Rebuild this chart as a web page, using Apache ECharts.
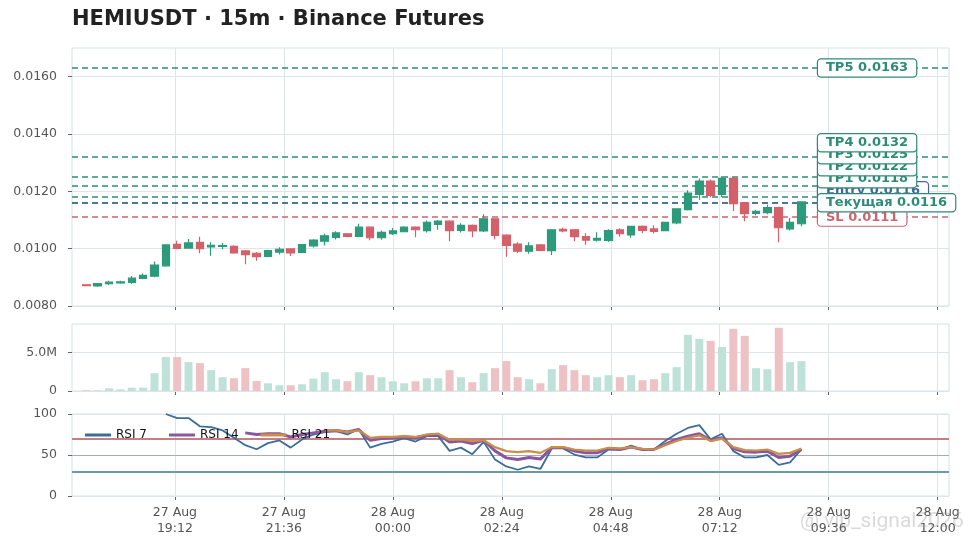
<!DOCTYPE html>
<html>
<head>
<meta charset="utf-8">
<title>HEMIUSDT 15m</title>
<script src="https://cdn.jsdelivr.net/npm/echarts@6/dist/echarts.min.js"></script>
<style>
html, body { margin: 0; padding: 0; background: #fff; }
#chart { width: 973px; height: 548px; }
</style>
</head>
<body>
<div id="chart"></div>
<script>
// 15m candles, "day HH:MM" (27 / 28 Aug)
var times = [
    '27 17:15','27 17:30','27 17:45','27 18:00','27 18:15','27 18:30','27 18:45','27 19:00',
    '27 19:15','27 19:30','27 19:45','27 20:00','27 20:15','27 20:30','27 20:45','27 21:00',
    '27 21:15','27 21:30','27 21:45','27 22:00','27 22:15','27 22:30','27 22:45','27 23:00',
    '27 23:15','27 23:30','27 23:45','28 00:00','28 00:15','28 00:30','28 00:45','28 01:00',
    '28 01:15','28 01:30','28 01:45','28 02:00','28 02:15','28 02:30','28 02:45','28 03:00',
    '28 03:15','28 03:30','28 03:45','28 04:00','28 04:15','28 04:30','28 04:45','28 05:00',
    '28 05:15','28 05:30','28 05:45','28 06:00','28 06:15','28 06:30','28 06:45','28 07:00',
    '28 07:15','28 07:30','28 07:45','28 08:00','28 08:15','28 08:30','28 08:45','28 09:00'
];
var opens = [
    0.00874,0.00870,0.00878,0.00881,0.00882,0.00896,0.00904,0.00940,
    0.01015,0.01002,0.01022,0.01006,0.01008,0.01008,0.00992,0.00984,
    0.00973,0.00988,0.00999,0.00987,0.01010,0.01026,0.01039,0.01052,
    0.01043,0.01075,0.01038,0.01052,0.01059,0.01075,0.01063,0.01085,
    0.01096,0.01064,0.01081,0.01062,0.01104,0.01047,0.01016,0.00991,
    0.01013,0.00993,0.01067,0.01066,0.01042,0.01030,0.01029,0.01066,
    0.01048,0.01078,0.01069,0.01063,0.01090,0.01136,0.01189,0.01236,
    0.01189,0.01245,0.01160,0.01123,0.01126,0.01143,0.01069,0.01087
];
var closes = [
    0.00871,0.00878,0.00883,0.00884,0.00897,0.00907,0.00943,0.01013,
    0.01001,0.01020,0.01000,0.01012,0.01011,0.00985,0.00979,0.00972,
    0.00993,0.00998,0.00985,0.01014,0.01030,0.01045,0.01055,0.01043,
    0.01075,0.01038,0.01057,0.01062,0.01075,0.01066,0.01092,0.01096,
    0.01063,0.01081,0.01062,0.01104,0.01046,0.01011,0.00991,0.01010,
    0.00994,0.01066,0.01062,0.01042,0.01030,0.01036,0.01063,0.01052,
    0.01078,0.01064,0.01060,0.01092,0.01139,0.01194,0.01236,0.01186,
    0.01245,0.01157,0.01122,0.01130,0.01143,0.01073,0.01092,0.01163
];
var lows = [
    0.00869,0.00866,0.00873,0.00878,0.00878,0.00893,0.00900,0.00937,
    0.00998,0.01000,0.00984,0.00975,0.00998,0.00982,0.00946,0.00958,
    0.00970,0.00980,0.00974,0.00985,0.01004,0.01011,0.01032,0.01040,
    0.01040,0.01029,0.01031,0.01048,0.01057,0.01040,0.01056,0.01066,
    0.01026,0.01056,0.01040,0.01058,0.01033,0.00972,0.00985,0.00982,
    0.00991,0.00978,0.01057,0.01026,0.01014,0.01025,0.01023,0.01042,
    0.01038,0.01054,0.01053,0.01061,0.01085,0.01133,0.01171,0.01179,
    0.01180,0.01131,0.01096,0.01117,0.01120,0.01022,0.01063,0.01078
];
var highs = [
    0.00876,0.00880,0.00888,0.00888,0.00905,0.00913,0.00955,0.01015,
    0.01028,0.01034,0.01042,0.01022,0.01020,0.01012,0.00995,0.00988,
    0.00996,0.01005,0.01001,0.01016,0.01033,0.01052,0.01061,0.01054,
    0.01087,0.01078,0.01063,0.01072,0.01078,0.01078,0.01098,0.01100,
    0.01099,0.01089,0.01084,0.01120,0.01106,0.01050,0.01022,0.01022,
    0.01016,0.01068,0.01073,0.01068,0.01054,0.01057,0.01068,0.01071,
    0.01080,0.01081,0.01082,0.01094,0.01141,0.01204,0.01245,0.01241,
    0.01253,0.01250,0.01163,0.01136,0.01153,0.01146,0.01107,0.01165
];
var volumes = [
    0.09,0.09,0.35,0.22,0.43,0.43,2.30,4.38,
    4.38,3.73,3.60,2.69,1.78,1.65,2.95,1.30,
    1.00,0.74,0.74,0.87,1.60,2.43,1.52,1.26,
    2.43,2.04,1.78,1.26,1.00,1.26,1.65,1.65,
    2.69,1.78,1.13,2.30,2.95,3.86,1.78,1.52,
    1.00,2.82,3.34,2.69,2.04,1.78,2.04,1.78,
    2.04,1.39,1.52,2.30,3.08,7.25,6.73,6.47,
    5.69,8.03,7.12,2.95,2.82,8.16,3.73,3.86
]; // millions
var rsi7 = [
    null,null,null,null,null,null,null,100,
    95,95,85,84,80,71,62,57,
    64.5,67.7,59,69,75,78,79,75,
    81.5,59,63.6,66.4,70.5,66.4,73,73,
    55,59,51,66,44.5,36,32,36,
    33,58,58,50.6,47,47,56.7,56.7,
    61.6,56.7,56.7,67,76,83,86.5,69,
    76,54.7,47,47,50,38,41,57
];
var rsi14 = [
    null,null,null,null,null,null,null,null,
    null,null,null,null,null,null,77,75,
    76,76,72,75,77,79,80,78,
    81,68,70,71,72,71,74,75,
    66,67,64,68,55,46.5,44.5,47,
    45,59,59,55,52.6,52.6,58,56.7,
    59.6,56.7,56.7,63,69,73,76,68,
    71,58,54,53.5,54.7,47,48.6,56.7
];
var rsi21 = [
    null,null,null,null,null,null,null,null,
    null,null,null,null,null,null,null,null,
    null,null,null,null,null,80,80,78,
    80,71,72,72,73,72,75,76,
    68.5,69,67,68,59.6,54.7,53.5,54.7,
    52.6,59.6,59.6,56.7,55.5,55.5,58.8,58,
    59.6,57.5,56.7,62,67,71,74,67,
    70,59.6,56,55.5,56.7,51.4,52.6,58
];

var tickTimes = ['27 19:12','27 21:36','28 00:00','28 02:24','28 04:48','28 07:12','28 09:36','28 12:00'];
var priceTicks = [0.008, 0.010, 0.012, 0.014, 0.016];
var volumeTicks = [0, 5]; // millions
var rsiTicks = [0, 50, 100];
var rsiLevels = [70, 50, 30];

// levels listed from the bottom label upward
var levelNames = ['SL', 'Текущая', 'Entry', 'TP1', 'TP2', 'TP3', 'TP4', 'TP5'];
var levelValues = [0.0111, 0.0116, 0.0116, 0.0118, 0.0122, 0.0125, 0.0132, 0.0163];

var UP = '#2b9b7b', DOWN = '#d3606b';
var UP_VOL = '#bfe2d8', DOWN_VOL = '#eec1c5';
var TEAL = '#2d8c75', RED = '#cc6470', BLUE = '#44689c';
var GRID = '#dde5e8';
var FONT = 'DejaVu Sans';

var PRICE_MIN = 0.008, PRICE_MAX = 0.017;
var VOL_MAX = 8.65e6;

function toMin(s) {
    var p = s.split(' ');
    var hm = p[1].split(':');
    return (parseInt(p[0]) - 27) * 1440 + parseInt(hm[0]) * 60 + parseInt(hm[1]);
}
function pad(n) { return (n < 10 ? '0' : '') + n; }
function timeLabel(v) {
    var d = 27 + Math.floor(v / 1440);
    var m = v - (d - 27) * 1440;
    return d + ' Aug\n' + pad(Math.floor(m / 60)) + ':' + pad(Math.round(m % 60));
}
function levelColor(name) {
    if (name == 'SL') return RED;
    if (name == 'Entry') return BLUE;
    return TEAL;
}

var xs = times.map(toMin);
var xTicks = tickTimes.map(toMin);
var xMin = toMin('27 16:56'), xMax = toMin('28 12:15');
var volTickVals = volumeTicks.map(function (v) { return v * 1e6; });

var candleData = xs.map(function (x, i) { return [x, opens[i], closes[i], lows[i], highs[i]]; });
var volData = xs.map(function (x, i) { return [x, volumes[i] * 1e6]; });
function rsiData(arr) {
    var out = [];
    arr.forEach(function (v, i) { if (v != null) out.push([xs[i], v]); });
    return out;
}

// grid lines at the custom tick values (splitLine does not follow customValues)
function gridLines(yVals, yLo, yHi) {
    var out = [];
    xTicks.forEach(function (v) {
        out.push([{ coord: [v, yLo], lineStyle: { color: GRID, type: 'solid', width: 1 } }, { coord: [v, yHi] }]);
    });
    yVals.forEach(function (v) {
        out.push([{ coord: [xMin, v], lineStyle: { color: GRID, type: 'solid', width: 1 } }, { coord: [xMax, v] }]);
    });
    return out;
}
function markLines(data) {
    // markLine rounds its values to 2 decimals unless precision is raised
    return { silent: true, z: 1, precision: 10, symbol: ['none', 'none'], label: { show: false }, data: data };
}

var tick = { show: true, length: 4, lineStyle: { color: '#666', width: 1 } };
var labelStyle = { color: '#555', fontSize: 12.5, fontFamily: FONT };

function makeX(idx, showLabel) {
    return {
        type: 'value', gridIndex: idx, min: xMin, max: xMax,
        axisLine: { show: false },
        axisTick: Object.assign({ customValues: xTicks }, tick),
        splitLine: { show: false },
        axisLabel: Object.assign({
            show: showLabel, customValues: xTicks, formatter: timeLabel,
            lineHeight: 16, margin: 9, align: 'center'
        }, labelStyle)
    };
}

var chart = echarts.init(document.getElementById('chart'));

var option = {
    animation: false,
    backgroundColor: '#fff',
    title: {
        text: 'HEMIUSDT · 15m · Binance Futures',
        left: 72, top: 9, padding: 0,
        textStyle: { fontSize: 21, fontWeight: 'bold', color: '#222', fontFamily: FONT }
    },
    legend: {
        data: [
            { name: 'RSI 7', icon: 'rect' },
            { name: 'RSI 14', icon: 'rect' },
            { name: 'RSI 21', icon: 'rect' }
        ],
        left: 80, top: 424,
        itemWidth: 26, itemHeight: 3, itemGap: 22,
        textStyle: { color: '#111', fontSize: 12, fontFamily: FONT }
    },
    grid: [
        { left: 72, right: 24, top: 48, height: 258, show: true, borderColor: '#d6e0e4', borderWidth: 1 },
        { left: 72, right: 24, top: 324, height: 67, show: true, borderColor: '#d6e0e4', borderWidth: 1 },
        { left: 72, right: 24, top: 414, height: 82, show: true, borderColor: '#d6e0e4', borderWidth: 1 }
    ],
    xAxis: [makeX(0, false), makeX(1, false), makeX(2, true)],
    yAxis: [
        {
            type: 'value', gridIndex: 0, min: PRICE_MIN, max: PRICE_MAX,
            axisLine: { show: false },
            axisTick: Object.assign({ customValues: priceTicks }, tick),
            splitLine: { show: false },
            axisLabel: Object.assign({
                customValues: priceTicks, margin: 15,
                formatter: function (v) { return v.toFixed(4); }
            }, labelStyle)
        },
        {
            type: 'value', gridIndex: 1, min: 0, max: VOL_MAX,
            axisLine: { show: false },
            axisTick: Object.assign({ customValues: volTickVals }, tick),
            splitLine: { show: false },
            axisLabel: Object.assign({
                customValues: volTickVals, margin: 15,
                formatter: function (v) { return v == 0 ? '0' : (v / 1e6).toFixed(1) + 'M'; }
            }, labelStyle)
        },
        {
            type: 'value', gridIndex: 2, min: 0, max: 100, interval: 50,
            axisLine: { show: false },
            axisTick: tick,
            splitLine: { show: false },
            axisLabel: Object.assign({ margin: 15 }, labelStyle)
        }
    ],
    series: [
        {
            // carries the price panel grid and the trade level lines
            name: 'levels', type: 'line', xAxisIndex: 0, yAxisIndex: 0, data: [], z: 1,
            markLine: markLines(gridLines(priceTicks, PRICE_MIN, PRICE_MAX).concat(levelValues.map(function (v, i) {
                return { yAxis: v, lineStyle: { color: levelColor(levelNames[i]), type: [6, 4], width: 1.6 } };
            })))
        },
        {
            name: 'HEMIUSDT', type: 'candlestick', xAxisIndex: 0, yAxisIndex: 0, z: 3,
            data: candleData, encode: { x: 0, y: [1, 2, 3, 4] },
            barWidth: 8,
            itemStyle: { color: UP, color0: DOWN, borderColor: UP, borderColor0: DOWN, borderWidth: 1.2 }
        },
        {
            name: 'Volume', type: 'bar', xAxisIndex: 1, yAxisIndex: 1, z: 3,
            data: volData, barWidth: 8,
            itemStyle: {
                color: function (p) { return closes[p.dataIndex] >= opens[p.dataIndex] ? UP_VOL : DOWN_VOL; }
            },
            markLine: markLines(gridLines(volTickVals, 0, VOL_MAX))
        },
        {
            name: 'RSI 7', type: 'line', xAxisIndex: 2, yAxisIndex: 2, z: 3,
            data: rsiData(rsi7), symbol: 'none',
            lineStyle: { color: '#3b6d9a', width: 1.8 }, itemStyle: { color: '#3b6d9a' },
            markLine: markLines(gridLines(rsiTicks, 0, 100).concat([
                { yAxis: rsiLevels[0], lineStyle: { color: '#c37f84', type: 'solid', width: 1.8 } },
                { yAxis: rsiLevels[1], lineStyle: { color: '#a3adb2', type: 'solid', width: 1.2 } },
                { yAxis: rsiLevels[2], lineStyle: { color: '#6c9d9d', type: 'solid', width: 2 } }
            ]))
        },
        {
            name: 'RSI 14', type: 'line', xAxisIndex: 2, yAxisIndex: 2, z: 3,
            data: rsiData(rsi14), symbol: 'none',
            lineStyle: { color: '#8b56a0', width: 3 }, itemStyle: { color: '#8b56a0' }
        },
        {
            name: 'RSI 21', type: 'line', xAxisIndex: 2, yAxisIndex: 2, z: 3,
            data: rsiData(rsi21), symbol: 'none',
            lineStyle: { color: '#c98f48', width: 2.2 }, itemStyle: { color: '#c98f48' }
        }
    ]
};

chart.setOption(option);

// level tags on the right, pushed up so they stack without hiding each other
var graphics = [];
var lastY = Infinity;
levelNames.forEach(function (name, i) {
    var y = chart.convertToPixel({ yAxisIndex: 0 }, levelValues[i]);
    if (y > lastY - 12) y = lastY - 12;
    lastY = y;
    var col = levelColor(name);
    graphics.push({
        type: 'text', x: 818, y: y, z: name == 'Текущая' ? 200 : 100 + i,
        style: {
            text: name + ' ' + levelValues[i].toFixed(4),
            fill: col, font: 'bold 13px "' + FONT + '"',
            align: 'left', verticalAlign: 'middle',
            backgroundColor: '#fff', borderColor: col, borderWidth: 1.2, borderRadius: 3,
            padding: [2, 8]
        }
    });
});
graphics.push({
    type: 'text', x: 800, y: 522, z: 300, silent: true,
    style: {
        text: '@ vip_signal2026', fill: 'rgba(150,150,150,0.35)',
        font: '21px Roboto', verticalAlign: 'middle'
    }
});
chart.setOption({ graphic: graphics });

window.onresize = function () {
    chart.resize();
};
</script>
</body>
</html>
